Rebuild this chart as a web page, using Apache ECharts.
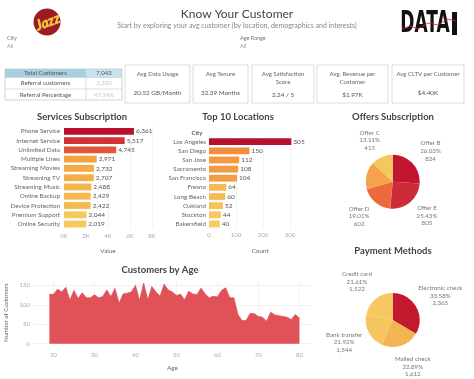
<!DOCTYPE html>
<html><head><meta charset="utf-8">
<script src="https://cdn.jsdelivr.net/npm/echarts@6/dist/echarts.min.js"></script>
<style>html,body{margin:0;padding:0;background:#fff}#c{width:474px;height:379px}</style>
</head><body><div id="c"></div>
<script>
// ---------- data ----------
const serviceNames = ['Phone Service','Internet Service','Unlimited Data','Multiple Lines','Streaming Movies','Streaming TV','Streaming Music','Online Backup','Device Protection','Premium Support','Online Security'];
const serviceValues = [6361,5517,4745,2971,2732,2707,2488,2429,2422,2044,2019];
const serviceTicks = [0,2000,4000,6000,8000];

const cityNames = ['Los Angeles','San Diego','San Jose','Sacramento','San Francisco','Fresno','Long Beach','Oakland','Stockton','Bakersfield'];
const cityCounts = [305,150,112,108,104,64,60,52,44,40];
const cityTicks = [0,100,200,300];

const offerNames = ['Offer B','Offer E','Offer D','Offer A','Offer C'];
const offerCounts = [824,805,602,520,415];

const paymentNames = ['Electronic check','Mailed check','Bank transfer','Credit card'];
const paymentCounts = [2365,1612,1544,1522];

const ages = [19,20,21,22,23,24,25,26,27,28,29,30,31,32,33,34,35,36,37,38,39,40,41,42,43,44,45,46,47,48,49,50,51,52,53,54,55,56,57,58,59,60,61,62,63,64,65,66,67,68,69,70,71,72,73,74,75,76,77,78,79,80];
const ageCounts = [127,127,140,133,145,112,137,116,131,118,118,126,118,121,138,121,142,104,128,130,133,150,111,156,113,147,133,122,153,138,133,124,127,113,135,128,126,143,128,118,122,120,137,144,118,118,75,59,60,78,77,70,68,58,81,74,72,70,68,62,75,66];
const ageTicks = [20,30,40,50,60,70,80];
const ageCountTicks = [0,50,100,150];

const kpiTableLabels = ['Total Customers','Referral customers','Referral Percentage'];
const kpiTableValues = ['7,043','3,320','47.14%'];
const cardLabels = ['Avg Data Usage','Avg Tenure','Avg Satisfaction\nScore','Avg. Revenue per\nCustomer','Avg CLTV per Customer'];
const cardValues = ['20.52 GB/Month','32.39 Months','3.24 / 5','$1.97K','$4.40K'];

// ---------- styles ----------
const F = 'Lato, "Open Sans", sans-serif';
const servicePalette = ['#f7c95e','#f29e3a','#e9713c','#d73c3a','#b8102e'];
const cityPalette = ['#f7cb60','#f39a45','#f08a3c','#d43a37','#b5102e'];
const offerColors = ['#c0172f','#cc2b3a','#ec6b3c','#f5a24a','#f1c95e'];
const paymentColors = ['#c3192f','#f3b453','#f5c560','#f5c862'];

function lerpColor(v, lo, hi, pal){ return echarts.color.lerp((v-lo)/(hi-lo), pal); }
const fmt = v => v.toLocaleString('en-US');

const chart = echarts.init(document.getElementById('c'), null, {renderer:'canvas', width:474, height:379});

function txt(x,y,text,size,fill,extra){
  return Object.assign({type:'text', x:x, y:y, silent:true,
    style:Object.assign({text:text, fontSize:size, fontFamily:F, fill:fill, align:'center', verticalAlign:'middle'}, extra||{})});
}

const graphics = [];
// header
graphics.push(txt(237,14,'Know Your Customer',12,'#444'));
graphics.push(txt(237,25.5,'Start by exploring your avg customer (by location, demographics and interests)',7,'#888'));
graphics.push(txt(7,38,'City',5.5,'#777',{align:'left'}));
graphics.push(txt(7,46,'All',5.5,'#999',{align:'left'}));
graphics.push(txt(240,38,'Age Range',5.5,'#777',{align:'left'}));
graphics.push(txt(240,46,'All',5.5,'#999',{align:'left'}));
// Jazz logo
graphics.push({type:'circle', shape:{cx:47,cy:22,r:13.5}, style:{fill:'#9a1c22'}, silent:true});
graphics.push({type:'text', x:48, y:22, rotation:0.35, silent:true,
  style:{text:'Jazz', fontSize:14, fontWeight:'bold', fontStyle:'italic', fontFamily:F, fill:'#f7d117', align:'center', verticalAlign:'middle', stroke:'#e7b9b9', lineWidth:0.5}});
// DATA logo
graphics.push({type:'text', x:425, y:24, scaleX:0.55, silent:true,
  style:{text:'DATA', fontSize:31, fontWeight:'bold', fontFamily:'"DejaVu Sans"', fill:'#111', align:'center', verticalAlign:'middle'}});
graphics.push({type:'rect', shape:{x:452,y:12,width:5,height:23}, style:{fill:'#111'}, silent:true});
graphics.push({type:'polyline', shape:{points:[[402,29],[410,26],[418,29],[428,23],[438,25],[447,19],[456,21]]}, style:{stroke:'#d0202a', lineWidth:0.8, fill:null}, silent:true});

// KPI table
graphics.push({type:'rect', shape:{x:5,y:69,width:81,height:8.5}, style:{fill:'#a6cfe0'}, silent:true});
graphics.push({type:'rect', shape:{x:86,y:69,width:36,height:8.5}, style:{fill:'#c9e2ec'}, silent:true});
graphics.push({type:'rect', shape:{x:5,y:69,width:117,height:31}, style:{fill:'none', stroke:'#b8cdd6', lineWidth:0.8}, silent:true});
graphics.push({type:'line', shape:{x1:5,y1:77.5,x2:122,y2:77.5}, style:{stroke:'#c9d8de', lineWidth:0.8}, silent:true});
graphics.push({type:'line', shape:{x1:5,y1:89,x2:122,y2:89}, style:{stroke:'#c9d8de', lineWidth:0.8}, silent:true});
graphics.push({type:'line', shape:{x1:86,y1:69,x2:86,y2:100}, style:{stroke:'#c9d8de', lineWidth:0.8}, silent:true});
const rowY = [73.3,83.3,94.7];
kpiTableLabels.forEach((l,i)=>{
  graphics.push(txt(45.5,rowY[i],l,6,'#555'));
  graphics.push(txt(104,rowY[i],kpiTableValues[i],6,i===0?'#556':'#c8c8c8'));
});
// KPI cards
const cardBoxes = [[125,65,65,38],[193,65,55,38],[252,65,62,38],[317,65,71,38],[392,65,72,38]];
cardBoxes.forEach((b,i)=>{
  graphics.push({type:'rect', shape:{x:b[0],y:b[1],width:b[2],height:b[3]}, style:{fill:'none', stroke:'#d3d3d3', lineWidth:0.8}, silent:true});
  const two = cardLabels[i].indexOf('\n')>=0;
  graphics.push(txt(b[0]+b[2]/2, two?78:74.5, cardLabels[i], 6, '#666', {lineHeight:7.4}));
  graphics.push(txt(b[0]+b[2]/2, two?95:93.3, cardValues[i], 6.3, '#555'));
});
// section titles
const TS = {fontWeight:'bold'};
graphics.push(txt(82,117,'Services Subscription',9.5,'#444',TS));
graphics.push(txt(238,117,'Top 10 Locations',9.5,'#444',TS));
graphics.push(txt(393,117,'Offers Subscription',9.5,'#444',TS));
graphics.push(txt(393,250.7,'Payment Methods',9.5,'#444',TS));
graphics.push(txt(160,270,'Customers by Age',9.5,'#444',TS));
graphics.push(txt(197,132.7,'City',6,'#555',{fontWeight:'bold'}));

const axisLabelStyle = {fontSize:6, color:'#aaa', fontFamily:F};
const catLabelStyle = {fontSize:6.3, color:'#666', fontFamily:F};
const faint = {show:true, lineStyle:{color:'#f0f0f0', width:0.8}};

const pieLabel = () => ({
  show:true, position:'outside', fontSize:6.2, color:'#777', fontFamily:F, lineHeight:7.6, overflow:'none',
  formatter: p => p.name + '\n' + p.percent.toFixed(2) + '%\n' + fmt(p.value)
});

const option = {
  animation:false,
  graphic: graphics,
  grid:[
    {left:64, top:126.7, width:88, height:102, outerBoundsMode:'none'},
    {left:209, top:137.1, width:102.6, height:91.4, outerBoundsMode:'none'},
    {left:33, top:281.5, width:278.7, height:62.2, outerBoundsMode:'none'}
  ],
  xAxis:[
    {gridIndex:0, type:'value', min:0, max:8000, interval:2000,
      axisLabel:Object.assign({margin:4, formatter:v=>(v/1000)+'K', customValues:serviceTicks}, axisLabelStyle),
      axisLine:{show:false}, axisTick:{show:false}, splitLine:faint,
      name:'Value', nameLocation:'middle', nameGap:19, nameTextStyle:{fontSize:6.3, color:'#666', fontFamily:F}},
    {gridIndex:1, type:'value', min:0, max:380, interval:100,
      axisLabel:Object.assign({margin:4, customValues:cityTicks}, axisLabelStyle),
      axisLine:{show:false}, axisTick:{show:false, customValues:cityTicks}, splitLine:faint,
      name:'Count', nameLocation:'middle', nameGap:19, nameTextStyle:{fontSize:6.3, color:'#666', fontFamily:F}},
    {gridIndex:2, type:'value', min:15, max:83,
      axisLabel:Object.assign({margin:8, customValues:ageTicks}, axisLabelStyle),
      axisLine:{show:false}, axisTick:{show:false, customValues:ageTicks}, splitLine:faint,
      name:'Age', nameLocation:'middle', nameGap:21, nameTextStyle:{fontSize:6.3, color:'#666', fontFamily:F}}
  ],
  yAxis:[
    {gridIndex:0, type:'category', data:serviceNames, inverse:true,
      axisLabel:Object.assign({margin:4}, catLabelStyle), axisLine:{show:false}, axisTick:{show:false}},
    {gridIndex:1, type:'category', data:cityNames, inverse:true,
      axisLabel:Object.assign({margin:3}, catLabelStyle), axisLine:{show:false}, axisTick:{show:false}},
    {gridIndex:2, type:'value', min:0, max:160,
      axisLabel:Object.assign({margin:3, customValues:ageCountTicks}, axisLabelStyle),
      axisLine:{show:false}, axisTick:{show:false, customValues:ageCountTicks}, splitLine:faint,
      name:'Number of Customers', nameLocation:'middle', nameGap:19, nameTextStyle:{fontSize:6, color:'#666', fontFamily:F}}
  ],
  series:[
    {type:'bar', xAxisIndex:0, yAxisIndex:0, data:serviceValues, barWidth:6.8,
      itemStyle:{color:p=>lerpColor(p.value, 2019, 6361, servicePalette)},
      label:{show:true, position:'right', distance:2, fontSize:6.5, color:'#555', fontFamily:F, formatter:p=>fmt(p.value)}},
    {type:'bar', xAxisIndex:1, yAxisIndex:1, data:cityCounts, barWidth:6.8,
      itemStyle:{color:p=>lerpColor(p.value, 40, 305, cityPalette)},
      label:{show:true, position:'right', distance:2, fontSize:6.5, color:'#555', fontFamily:F, formatter:p=>fmt(p.value)}},
    {type:'line', xAxisIndex:2, yAxisIndex:2, data:ages.map((a,i)=>[a, ageCounts[i]]),
      symbol:'none', lineStyle:{color:'#e05258', width:0.8}, areaStyle:{color:'#e05258', opacity:1}},
    {type:'pie', center:[392.7,181.7], radius:27, startAngle:90, clockwise:true,
      data:offerNames.map((n,i)=>({name:n, value:offerCounts[i], itemStyle:{color:offerColors[i]}, label:{show:n!=='Offer A'}})),
      label:pieLabel(), labelLine:{show:false, length:18, length2:0},
      labelLayout:{align:'center'}, emphasis:{disabled:true}},
    {type:'pie', center:[392.7,320], radius:27, startAngle:90, clockwise:true,
      data:paymentNames.map((n,i)=>({name:n, value:paymentCounts[i], itemStyle:{color:paymentColors[i]}})),
      label:pieLabel(), labelLine:{show:false, length:22, length2:0},
      labelLayout:{align:'center'}, emphasis:{disabled:true}}
  ]
};
chart.setOption(option);
</script></body></html>
